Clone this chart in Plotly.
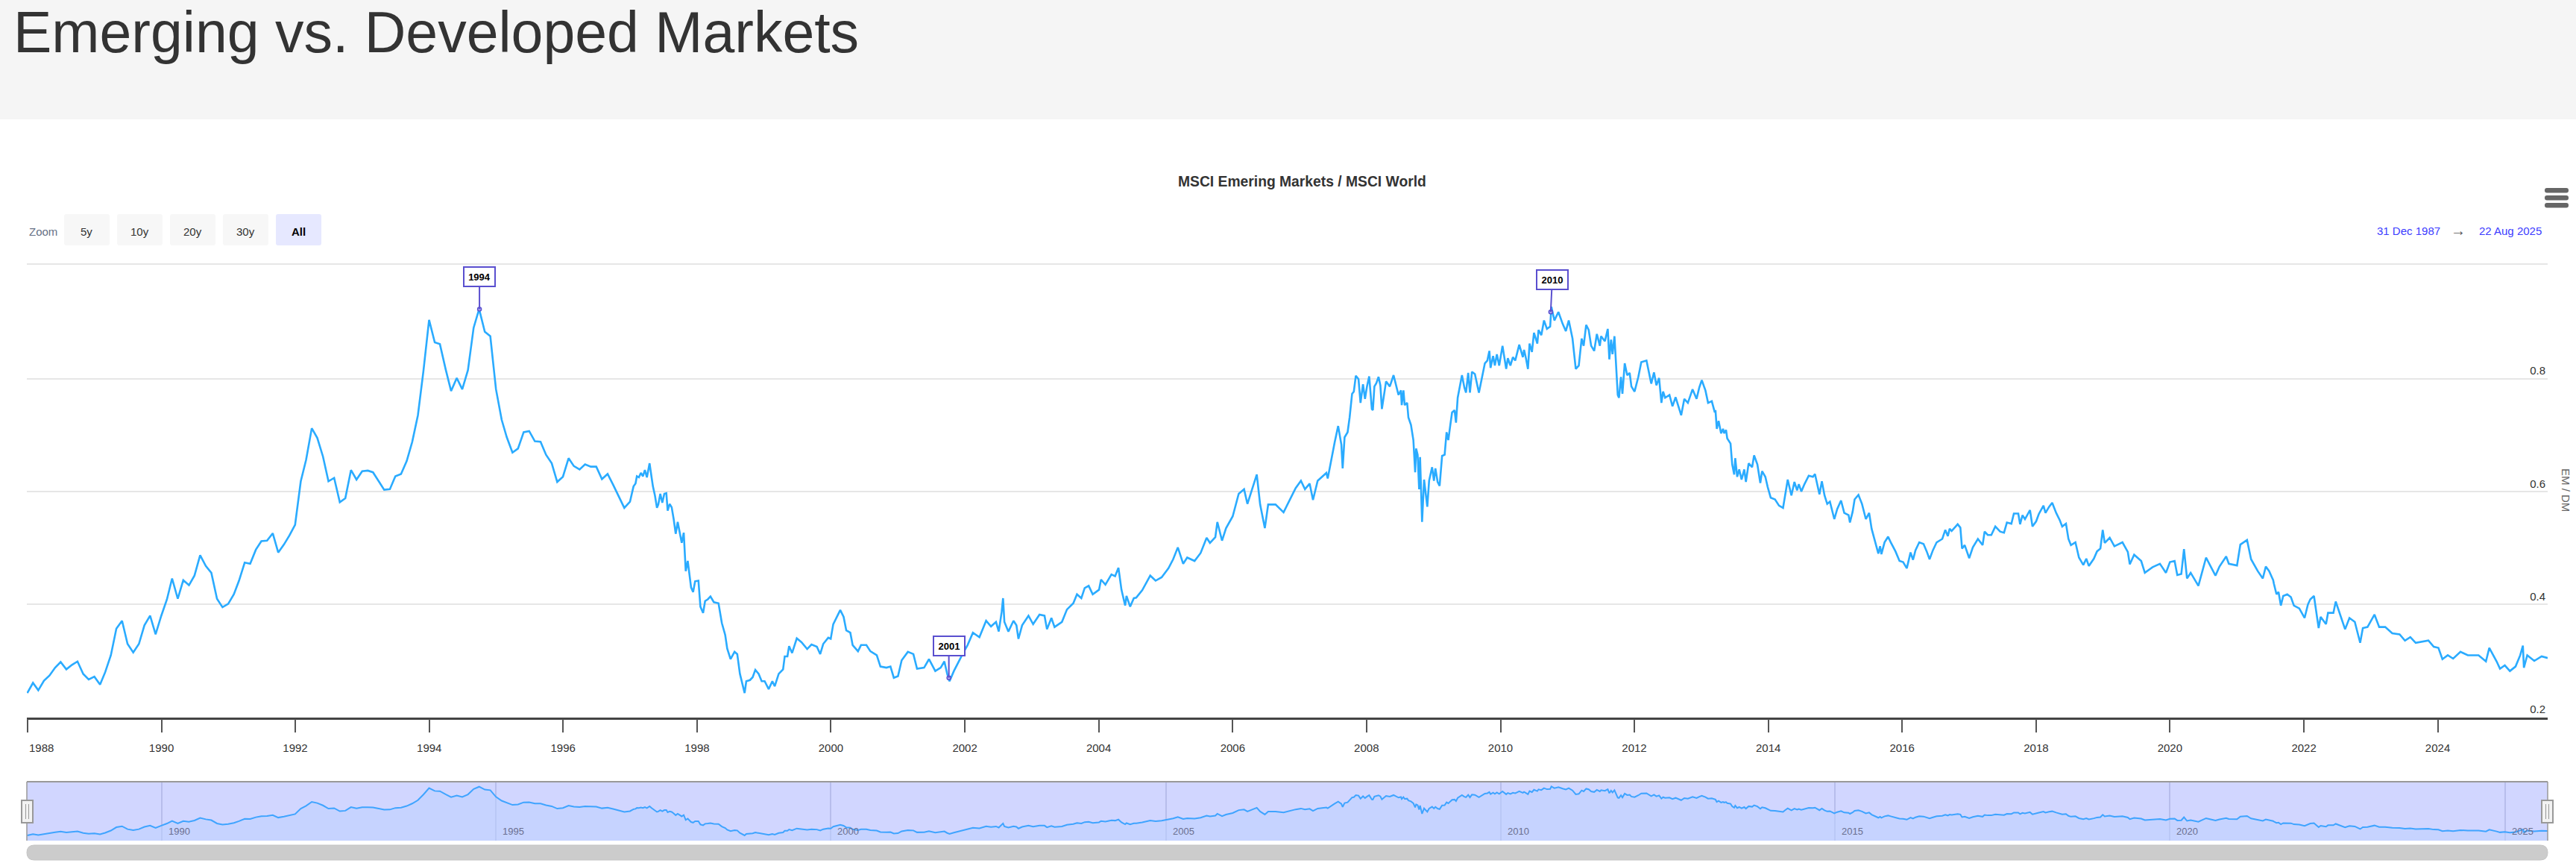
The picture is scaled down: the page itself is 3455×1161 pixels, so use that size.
import pandas as pd
import plotly.graph_objects as go

# EM / DM ratio. Monthly up to end of 1996, then (year, value) readings.
monthly_values = [
    .243, .261, .248, .265, .274, .288, .298, .285, .293, .299, .277, .267, .272, .258, .280, .310,
    .357, .371, .330, .315, .330, .363, .380, .347, .380, .409, .446, .410, .443, .434, .451, .487,
    .468, .456, .410, .395, .401, .418, .442, .474, .472, .497, .512, .513, .526, .492, .506, .522,
    .541, .618, .656, .712, .695, .662, .618, .624, .581, .588, .638, .621, .636, .637, .634, .619,
    .603, .604, .627, .631, .654, .688, .735, .813, .904, .864, .861, .817, .778, .801, .781, .815,
    .890, .923, .883, .875, .781, .727, .696, .669, .676, .705, .707, .689, .688, .665, .650, .617,
    .626, .659, .645, .639, .648, .644, .644, .622, .631, .612, .592, .571, .582,
]

readings_1997 = [
    (1997.05, .609), (1997.08, .614), (1997.10, .627), (1997.13, .625), (1997.16, .633), (1997.19, .627),
    (1997.22, .638), (1997.25, .625), (1997.29, .650), (1997.32, .625), (1997.34, .609), (1997.37, .593),
    (1997.40, .571), (1997.42, .577), (1997.45, .596), (1997.48, .580), (1997.51, .596), (1997.54, .597),
    (1997.56, .566), (1997.59, .578), (1997.62, .572), (1997.65, .551), (1997.68, .525), (1997.71, .546),
    (1997.74, .527), (1997.77, .509), (1997.80, .527), (1997.83, .459), (1997.86, .477), (1997.91, .430),
    (1997.94, .422), (1997.97, .441), (1998.02, .442), (1998.05, .396), (1998.09, .385), (1998.12, .406),
    (1998.16, .409), (1998.20, .414), (1998.25, .404), (1998.32, .402), (1998.37, .367), (1998.42, .346),
    (1998.45, .322), (1998.50, .303), (1998.56, .316), (1998.60, .312), (1998.64, .277), (1998.71, .243),
]

readings_1998 = [
    (1998.735, .264), (1998.79, .266), (1998.83, .271), (1998.87, .284), (1998.92, .277), (1998.965, .264),
    (1999.01, .264), (1999.07, .250), (1999.125, .264), (1999.16, .255), (1999.22, .277), (1999.285, .285),
    (1999.31, .308), (1999.35, .308), (1999.375, .326), (1999.42, .314), (1999.49, .340), (1999.56, .333),
    (1999.645, .321), (1999.71, .329), (1999.79, .325), (1999.84, .312), (1999.885, .330), (1999.96, .341),
    (1999.997, .339), (2000.035, .365), (2000.14, .390), (2000.19, .378), (2000.23, .354), (2000.29, .350),
    (2000.325, .328), (2000.405, .317), (2000.45, .328), (2000.53, .328), (2000.59, .317), (2000.685, .310),
    (2000.74, .290), (2000.83, .288), (2000.89, .290), (2000.94, .270), (2001.00, .273), (2001.055, .301),
    (2001.148, .316), (2001.23, .312), (2001.285, .286), (2001.39, .288), (2001.463, .303), (2001.557, .282),
    (2001.638, .288), (2001.693, .299), (2001.735, .277), (2001.77, .264), (2001.835, .282), (2001.89, .295),
    (2001.965, .312), (2002.04, .328), (2002.12, .350), (2002.217, .342), (2002.317, .371), (2002.39, .361),
    (2002.465, .369), (2002.506, .352), (2002.55, .387), (2002.57, .411), (2002.59, .369), (2002.65, .352),
    (2002.726, .371), (2002.77, .363), (2002.80, .339), (2002.855, .363), (2002.95, .380), (2003.02, .365),
    (2003.115, .382), (2003.19, .380), (2003.227, .356), (2003.293, .376), (2003.34, .360), (2003.45, .369),
    (2003.525, .391), (2003.62, .402), (2003.675, .418), (2003.74, .411), (2003.79, .429), (2003.85, .433),
    (2003.91, .418), (2004.005, .426), (2004.035, .444), (2004.10, .435), (2004.19, .453), (2004.245, .450),
    (2004.295, .465), (2004.34, .426), (2004.395, .398), (2004.415, .415), (2004.47, .396), (2004.525, .411),
]

readings_2004 = [
    (2004.56, .412), (2004.65, .425), (2004.77, .451), (2004.85, .442), (2004.94, .448), (2005.04, .464),
    (2005.11, .480), (2005.18, .501), (2005.26, .472), (2005.32, .483), (2005.43, .477), (2005.52, .491),
    (2005.61, .518), (2005.66, .509), (2005.74, .519), (2005.77, .546), (2005.84, .513), (2005.90, .535),
    (2006.00, .556), (2006.09, .596), (2006.17, .604), (2006.22, .578), (2006.30, .609), (2006.36, .630),
    (2006.41, .577), (2006.48, .535), (2006.53, .577), (2006.64, .577), (2006.76, .563), (2006.86, .588),
    (2006.94, .606), (2007.02, .619), (2007.08, .604), (2007.15, .614), (2007.20, .585), (2007.27, .619),
    (2007.40, .633),
]

readings_2007 = [
    (2007.42, .623), (2007.45, .643), (2007.487, .667), (2007.524, .687), (2007.576, .716), (2007.606, .691),
    (2007.624, .683), (2007.643, .641), (2007.672, .696), (2007.717, .705), (2007.747, .731), (2007.784, .773),
    (2007.81, .777), (2007.84, .805), (2007.88, .799), (2007.91, .757), (2007.947, .790), (2007.977, .764),
    (2008.007, .786), (2008.04, .804), (2008.08, .746), (2008.095, .744), (2008.118, .786), (2008.147, .792),
    (2008.18, .803), (2008.207, .788), (2008.23, .746), (2008.292, .795), (2008.348, .786), (2008.404, .806),
    (2008.44, .790), (2008.478, .771), (2008.515, .779), (2008.526, .753), (2008.552, .779), (2008.57, .753),
    (2008.607, .757), (2008.626, .731), (2008.664, .718), (2008.70, .691), (2008.727, .634), (2008.741, .676),
    (2008.764, .665), (2008.786, .604), (2008.80, .661), (2008.83, .546), (2008.86, .621), (2008.886, .595),
    (2008.908, .573), (2008.935, .619), (2008.98, .643), (2009.005, .619), (2009.027, .641), (2009.06, .617),
    (2009.09, .610), (2009.127, .663), (2009.165, .665), (2009.194, .705), (2009.22, .691), (2009.25, .718),
    (2009.276, .740), (2009.313, .744), (2009.335, .722), (2009.36, .766), (2009.395, .790), (2009.424, .806),
    (2009.46, .784), (2009.484, .775), (2009.517, .810), (2009.543, .775), (2009.573, .812), (2009.617, .808),
    (2009.677, .775), (2009.72, .801), (2009.766, .827), (2009.803, .832), (2009.833, .849), (2009.851, .819),
    (2009.889, .840), (2009.915, .823), (2009.945, .843), (2009.98, .823), (2010.03, .858), (2010.085, .817),
    (2010.11, .836), (2010.148, .823), (2010.185, .838), (2010.22, .832), (2010.28, .860), (2010.334, .838),
    (2010.352, .851), (2010.38, .836), (2010.41, .817), (2010.434, .862), (2010.47, .847), (2010.50, .881),
    (2010.55, .862), (2010.568, .886), (2010.61, .877), (2010.65, .903), (2010.694, .888), (2010.742, .892),
    (2010.76, .927), (2010.805, .903), (2010.865, .918), (2010.928, .897), (2010.976, .884), (2011.02, .903),
    (2011.076, .871), (2011.125, .817), (2011.17, .823), (2011.213, .871), (2011.243, .858), (2011.28, .895),
    (2011.318, .886), (2011.355, .858), (2011.40, .849), (2011.44, .879), (2011.485, .858), (2011.503, .875),
    (2011.56, .866), (2011.603, .888), (2011.626, .834), (2011.652, .869), (2011.674, .843), (2011.703, .875),
    (2011.726, .827), (2011.752, .771), (2011.77, .766), (2011.80, .803), (2011.822, .773), (2011.856, .827),
    (2011.893, .806), (2011.93, .810), (2011.956, .786), (2012.004, .777), (2012.06, .803), (2012.104, .829),
    (2012.182, .832), (2012.227, .805), (2012.253, .791), (2012.294, .811), (2012.33, .788), (2012.37, .801),
    (2012.405, .757), (2012.43, .777), (2012.46, .766), (2012.525, .771), (2012.57, .751), (2012.617, .767),
    (2012.654, .753), (2012.70, .735), (2012.747, .764), (2012.80, .757), (2012.87, .781), (2012.93, .764),
    (2012.97, .784), (2013.006, .797), (2013.06, .779), (2013.10, .757), (2013.155, .760), (2013.20, .740),
]

readings_2013 = [
    (2013.21, .744), (2013.23, .711), (2013.257, .725), (2013.294, .703), (2013.323, .711), (2013.34, .703),
    (2013.368, .709), (2013.386, .694), (2013.435, .685), (2013.46, .648), (2013.49, .630), (2013.505, .659),
    (2013.535, .626), (2013.565, .639), (2013.60, .621), (2013.64, .639), (2013.665, .617), (2013.706, .650),
    (2013.758, .643), (2013.787, .664), (2013.836, .648), (2013.88, .615), (2013.906, .636), (2013.955, .626),
    (2013.99, .608), (2014.036, .589), (2014.10, .586), (2014.16, .575), (2014.22, .571), (2014.25, .595),
    (2014.29, .621), (2014.345, .593), (2014.39, .617), (2014.43, .602), (2014.456, .613), (2014.493, .600),
    (2014.54, .613), (2014.604, .628), (2014.667, .626), (2014.697, .631), (2014.734, .611), (2014.764, .595),
    (2014.80, .618), (2014.84, .593), (2014.88, .578), (2014.92, .582), (2014.986, .551), (2015.03, .569),
    (2015.087, .584), (2015.135, .562), (2015.20, .558), (2015.22, .545), (2015.26, .564), (2015.29, .586),
    (2015.347, .594), (2015.40, .578), (2015.458, .551), (2015.507, .562), (2015.544, .534), (2015.59, .512),
    (2015.644, .490), (2015.67, .503), (2015.69, .489), (2015.737, .510), (2015.79, .520), (2015.83, .510),
    (2015.90, .494), (2015.96, .477), (2016.015, .475), (2016.07, .464), (2016.126, .492), (2016.163, .479),
    (2016.20, .496), (2016.256, .510), (2016.32, .507), (2016.367, .494), (2016.41, .480), (2016.46, .496),
    (2016.516, .510), (2016.60, .516), (2016.645, .532), (2016.683, .521), (2016.71, .534), (2016.74, .530),
    (2016.83, .542), (2016.87, .536), (2016.895, .499), (2016.935, .505), (2017.00, .482), (2017.054, .501),
    (2017.13, .516), (2017.20, .505), (2017.23, .529), (2017.277, .523), (2017.33, .523), (2017.39, .538),
    (2017.462, .529), (2017.52, .527), (2017.563, .545), (2017.63, .543), (2017.667, .561), (2017.733, .561),
    (2017.76, .542), (2017.795, .558), (2017.833, .551), (2017.908, .567), (2017.945, .538), (2018.00, .547),
    (2018.04, .560), (2018.11, .575), (2018.14, .562), (2018.194, .573), (2018.24, .580), (2018.30, .562),
    (2018.354, .549), (2018.39, .538), (2018.446, .543), (2018.483, .516), (2018.52, .505), (2018.587, .510),
    (2018.64, .483), (2018.705, .470), (2018.75, .481), (2018.788, .468), (2018.862, .481), (2018.91, .494),
    (2018.96, .499), (2018.995, .532),
]

readings_2019 = [
    (2019.025, .509), (2019.10, .518), (2019.17, .503), (2019.29, .510), (2019.37, .493), (2019.40, .471),
    (2019.465, .488), (2019.57, .477), (2019.625, .456), (2019.74, .466), (2019.85, .472), (2019.94, .456),
    (2020.00, .475), (2020.07, .477), (2020.11, .452), (2020.17, .454), (2020.21, .498), (2020.255, .446),
    (2020.31, .456), (2020.425, .433), (2020.48, .456), (2020.54, .483), (2020.61, .467), (2020.68, .451),
    (2020.74, .467), (2020.84, .485), (2020.88, .472), (2021.00, .469), (2021.05, .506), (2021.15, .514),
    (2021.21, .480), (2021.31, .459), (2021.385, .446), (2021.43, .467), (2021.48, .459), (2021.54, .443),
]

readings_2021 = [
    (2021.55, .437), (2021.59, .418), (2021.62, .422), (2021.655, .398), (2021.69, .415), (2021.75, .418),
    (2021.805, .413), (2021.85, .398), (2021.93, .393), (2022.01, .376), (2022.06, .400), (2022.095, .409),
    (2022.15, .415), (2022.18, .393), (2022.22, .358), (2022.25, .378), (2022.33, .365), (2022.36, .385),
    (2022.44, .385), (2022.475, .405), (2022.535, .385), (2022.615, .356), (2022.68, .376), (2022.76, .369),
    (2022.84, .332), (2022.88, .358), (2022.95, .360), (2023.055, .382), (2023.125, .360), (2023.215, .360),
    (2023.32, .349), (2023.43, .347), (2023.51, .336), (2023.59, .342), (2023.67, .332), (2023.86, .336),
    (2023.94, .325), (2024.01, .323), (2024.07, .303), (2024.15, .310), (2024.23, .304), (2024.34, .316),
    (2024.45, .310), (2024.61, .310), (2024.72, .299), (2024.77, .323), (2024.88, .299), (2024.93, .286),
    (2025.00, .292), (2025.076, .282), (2025.16, .290), (2025.23, .310), (2025.27, .327), (2025.285, .288),
    (2025.335, .310), (2025.44, .300), (2025.55, .308), (2025.64, .305),
]

flag_labels = ["1994", "2001", "2010"]
flag_years = [1994.75, 2001.76, 2010.75]
flag_values = [.923, .27, .918]

year_ticks = list(range(1988, 2026, 2))
nav_ticks = list(range(1990, 2026, 5))
y_ticks = [.2, .4, .6, .8, 1.0034]
y_labels = ["0.2", "0.4", "0.6", "0.8", ""]
zoom_buttons = ["5y", "10y", "20y", "30y", "All"]

W, H = 3455, 1161
FONT = "Liberation Sans"
LINE = "#2aabff"
FLAG = "#5a4fcf"


def year_to_date(y):
    year = int(y)
    return pd.Timestamp(year=year, month=1, day=1) + pd.Timedelta(days=(y - year) * 365.25)


def px(x):
    return x / W


def py(y):
    return 1 - y / H


def rounded(x0, y0, x1, y1, r):
    # rounded box in paper coordinates, from page pixels
    pts = [
        f"M{px(x0 + r)},{py(y0)}", f"L{px(x1 - r)},{py(y0)}", f"Q{px(x1)},{py(y0)} {px(x1)},{py(y0 + r)}",
        f"L{px(x1)},{py(y1 - r)}", f"Q{px(x1)},{py(y1)} {px(x1 - r)},{py(y1)}",
        f"L{px(x0 + r)},{py(y1)}", f"Q{px(x0)},{py(y1)} {px(x0)},{py(y1 - r)}",
        f"L{px(x0)},{py(y0 + r)}", f"Q{px(x0)},{py(y0)} {px(x0 + r)},{py(y0)}", "Z",
    ]
    return " ".join(pts)


def paper_text(x, y, text, size, color, xanchor="left", bold=False, **kw):
    return dict(
        xref="paper", yref="paper", x=px(x), y=py(y), text=f"<b>{text}</b>" if bold else text,
        showarrow=False, xanchor=xanchor, yanchor="middle",
        font=dict(family=FONT, size=size, color=color), **kw,
    )


readings = readings_1997 + readings_1998 + readings_2004 + readings_2007 + readings_2013 + readings_2019 + readings_2021
monthly_dates = pd.date_range("1987-12-31", periods=len(monthly_values), freq=pd.offsets.MonthEnd())
dates = list(monthly_dates) + [year_to_date(y) for y, _ in readings]
values = monthly_values + [v for _, v in readings]
flag_dates = [year_to_date(y) for y in flag_years]

fig = go.Figure()
fig.add_trace(go.Scatter(
    x=dates, y=values, mode="lines", line=dict(color=LINE, width=2.6), hoverinfo="skip",
))
fig.add_trace(go.Scatter(
    x=flag_dates, y=flag_values, mode="markers", hoverinfo="skip",
    marker=dict(color="#b9b4ee", size=5, line=dict(color=FLAG, width=1.5)),
))
# navigator series
fig.add_trace(go.Scatter(
    x=dates, y=values, xaxis="x2", yaxis="y2", mode="lines", fill="tozeroy",
    fillcolor="rgba(190,210,255,0.55)", line=dict(color="#3fa4ff", width=2), hoverinfo="skip",
))

x_start = year_to_date(1987.99)
x_end = year_to_date(2025.64)
shapes = [
    dict(type="rect", xref="paper", yref="paper", x0=0, x1=1, y0=py(160), y1=1,
         fillcolor="#f5f5f5", line_width=0, layer="below"),
    # navigator mask and frame
    dict(type="rect", xref="paper", yref="paper", x0=px(36), x1=px(3417), y0=py(1127), y1=py(1048),
         fillcolor="#d1d6ff", line_width=0, layer="below"),
    dict(type="line", xref="paper", yref="paper", x0=px(36), x1=px(3417), y0=py(1048), y1=py(1048),
         line=dict(color="#999999", width=2)),
    dict(type="line", xref="paper", yref="paper", x0=px(36), x1=px(36), y0=py(1048), y1=py(1127),
         line=dict(color="#999999", width=1.5)),
    dict(type="line", xref="paper", yref="paper", x0=px(3417), x1=px(3417), y0=py(1048), y1=py(1127),
         line=dict(color="#999999", width=1.5)),
    # scrollbar
    dict(type="path", xref="paper", yref="paper", path=rounded(36, 1133, 3417, 1153, 10),
         fillcolor="#cccccc", line=dict(color="#c4c4c4", width=1)),
]

# navigator handles
for left in (29, 3409):
    shapes.append(dict(type="rect", xref="paper", yref="paper", x0=px(left), x1=px(left + 15),
                       y0=py(1103), y1=py(1073), fillcolor="#f2f2f2", line=dict(color="#999999", width=2)))
    for dx in (5.5, 9.5):
        shapes.append(dict(type="line", xref="paper", yref="paper", x0=px(left + dx), x1=px(left + dx),
                           y0=py(1098), y1=py(1078), line=dict(color="#999999", width=1)))

# hamburger menu
for top in (252, 262, 272):
    shapes.append(dict(type="path", xref="paper", yref="paper", path=rounded(3413, top, 3445, top + 6.5, 3),
                       fillcolor="#666666", line_width=0))

annotations = [
    paper_text(21 - 5, 43, "Emerging vs. Developed Markets", 77, "#333333"),
    paper_text(1746, 243, "MSCI Emering Markets / MSCI World", 19.3, "#333333", xanchor="center", bold=True),
    paper_text(37, 310, "Zoom", 15, "#667085"),
    paper_text(3186, 309, "31 Dec 1987", 15, "#3d3dff"),
    paper_text(3297, 309, "→", 20, "#555555", xanchor="center"),
    paper_text(3323, 309, "22 Aug 2025", 15, "#3d3dff"),
    paper_text(3442, 657, "EM / DM", 15, "#666666", xanchor="center", textangle=90),
    dict(xref="x", yref="paper", x=x_start, y=py(1002), text="1988", showarrow=False, xanchor="left",
         xshift=1, yanchor="middle", font=dict(family=FONT, size=15, color="#333333")),
]

# zoom buttons
for i, label in enumerate(zoom_buttons):
    x0 = 86 + 71 * i
    active = label == "All"
    shapes.append(dict(type="path", xref="paper", yref="paper", path=rounded(x0, 287, x0 + 61, 329, 3),
                       fillcolor="#e6e8ff" if active else "#f7f7f7", line_width=0))
    annotations.append(paper_text(x0 + 30.5, 310, label, 15, "#000000" if active else "#333333",
                                  xanchor="center", bold=active))

# flags
for label, d, v, ax in zip(flag_labels, flag_dates, flag_values, (0, 0, 2)):
    annotations.append(dict(
        x=d, y=v, xref="x", yref="y", text=f"<b>{label}</b>", showarrow=True, arrowhead=0,
        arrowcolor=FLAG, arrowwidth=2, ax=ax, ay=-43, bgcolor="#ffffff", bordercolor=FLAG,
        borderwidth=2, borderpad=3, width=34, height=18, font=dict(family=FONT, size=13, color="#000000"),
    ))

# navigator year labels
for year in nav_ticks:
    annotations.append(dict(
        x=year_to_date(year), y=.17, xref="x2", yref="y2", text=str(year), showarrow=False, xanchor="left",
        yanchor="bottom", xshift=7, yshift=3, font=dict(family=FONT, size=13, color="#6b6f8f"),
    ))

fig.update_layout(
    width=W, height=H, margin=dict(l=0, r=0, t=0, b=0), paper_bgcolor="#ffffff", plot_bgcolor="rgba(0,0,0,0)",
    showlegend=False, font=dict(family=FONT), shapes=shapes, annotations=annotations,
    xaxis=dict(
        domain=[px(36), px(3417)], range=[x_start, x_end], anchor="y", type="date",
        tickvals=[f"{y}-01-01" for y in year_ticks],
        ticktext=[""] + [str(y) for y in year_ticks[1:]],
        ticks="outside", ticklen=18, tickwidth=1.5, tickcolor="#555555",
        showline=True, linecolor="#444444", linewidth=2.5, showgrid=False, zeroline=False,
        tickfont=dict(family=FONT, size=15, color="#333333"), ticklabelstandoff=8,
    ),
    yaxis=dict(
        domain=[py(961.7), py(351.6)], range=[.2, 1.006], side="right", anchor="x",
        tickvals=y_ticks, ticktext=y_labels, ticks="", ticklabelposition="inside top",
        showgrid=True, gridcolor="#e6e6e6", gridwidth=2, zeroline=False, showline=False,
        tickfont=dict(family=FONT, size=15, color="#333333"),
    ),
    xaxis2=dict(
        domain=[px(36), px(3417)], range=[x_start, x_end], anchor="y2", type="date",
        tickvals=[f"{y}-01-01" for y in nav_ticks], showticklabels=False, ticks="",
        showgrid=True, gridcolor="rgba(150,160,210,0.45)", gridwidth=1.5, zeroline=False, showline=False,
    ),
    yaxis2=dict(
        domain=[py(1127), py(1048)], range=[.17, .993], anchor="x2", showticklabels=False,
        showgrid=False, zeroline=False, showline=False, ticks="",
    ),
)

fig.write_html(
    "out.html",
    config={"displayModeBar": False},
    post_script="document.body.style.margin='0';document.body.style.overflow='hidden';",
)
